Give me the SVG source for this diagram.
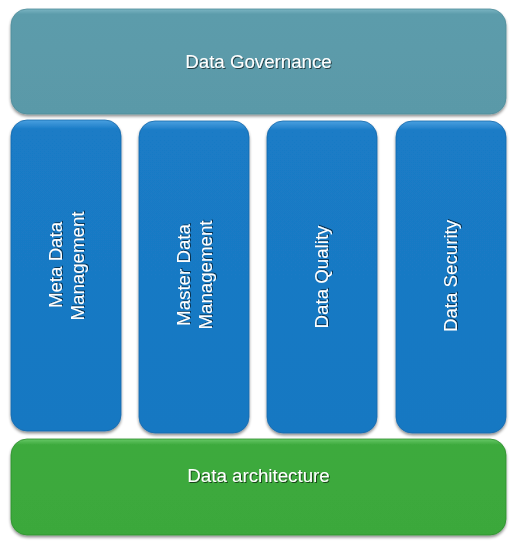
<svg xmlns="http://www.w3.org/2000/svg" width="518" height="544" viewBox="0 0 518 544">
<style>
.lbl{font-family:"Liberation Sans",Arial,sans-serif;font-size:18.7px;fill:#ffffff;text-anchor:middle;filter:url(#ts)}
</style>
<defs>
<filter id="sh" x="-10%" y="-10%" width="120%" height="125%">
<feGaussianBlur in="SourceAlpha" stdDeviation="1.5"/>
<feOffset dx="0" dy="2" result="b"/>
<feComponentTransfer><feFuncA type="linear" slope="0.45"/></feComponentTransfer>
<feMerge><feMergeNode/><feMergeNode in="SourceGraphic"/></feMerge>
</filter>
<filter id="ts" x="-10%" y="-30%" width="130%" height="160%">
<feOffset in="SourceAlpha" dx="1" dy="1"/>
<feGaussianBlur stdDeviation="0.6"/>
<feComponentTransfer><feFuncA type="linear" slope="0.6"/></feComponentTransfer>
<feMerge><feMergeNode/><feMergeNode in="SourceGraphic"/></feMerge>
</filter>
<linearGradient id="gT" x1="0" y1="0" x2="0" y2="1">
<stop offset="0" stop-color="#7ab4c2"/><stop offset="0.05" stop-color="#5c9cab"/><stop offset="1" stop-color="#5a99a8"/>
</linearGradient>
<linearGradient id="gB" x1="0" y1="0" x2="0" y2="1">
<stop offset="0" stop-color="#4aa0e0"/><stop offset="0.03" stop-color="#1a7bc6"/><stop offset="1" stop-color="#1878c2"/>
</linearGradient>
<linearGradient id="gG" x1="0" y1="0" x2="0" y2="1">
<stop offset="0" stop-color="#66c866"/><stop offset="0.06" stop-color="#3daa3d"/><stop offset="1" stop-color="#3ba83b"/>
</linearGradient>
</defs>
<g id="data-governance">
<rect x="11" y="9" width="495" height="105" rx="16" fill="url(#gT)" stroke="#4f8d9b" stroke-width="0.8" filter="url(#sh)"/>
<text class="lbl" x="258.5" y="68">Data Governance</text>
</g>
<g id="meta-data-management">
<rect x="11" y="120" width="110" height="311" rx="16" fill="url(#gB)" stroke="#156aac" stroke-width="0.8" filter="url(#sh)"/>
<text class="lbl" transform="translate(62,265) rotate(-90)" x="0" y="0">Meta Data</text>
<text class="lbl" transform="translate(84,266) rotate(-90)" x="0" y="0">Management</text>
</g>
<g id="master-data-management">
<rect x="139" y="121" width="110" height="312" rx="16" fill="url(#gB)" stroke="#156aac" stroke-width="0.8" filter="url(#sh)"/>
<text class="lbl" transform="translate(190,275) rotate(-90)" x="0" y="0">Master Data</text>
<text class="lbl" transform="translate(212,275) rotate(-90)" x="0" y="0">Management</text>
</g>
<g id="data-quality">
<rect x="267" y="121" width="110" height="312" rx="16" fill="url(#gB)" stroke="#156aac" stroke-width="0.8" filter="url(#sh)"/>
<text class="lbl" transform="translate(328,277) rotate(-90)" x="0" y="0">Data Quality</text>
</g>
<g id="data-security">
<rect x="396" y="121" width="110" height="312" rx="16" fill="url(#gB)" stroke="#156aac" stroke-width="0.8" filter="url(#sh)"/>
<text class="lbl" transform="translate(457,276) rotate(-90)" x="0" y="0">Data Security</text>
</g>
<g id="data-architecture">
<rect x="11" y="439" width="495" height="96" rx="16" fill="url(#gG)" stroke="#2f8f2f" stroke-width="0.8" filter="url(#sh)"/>
<text class="lbl" x="258.5" y="482">Data architecture</text>
</g>
<g id="connectors"></g>
</svg>
